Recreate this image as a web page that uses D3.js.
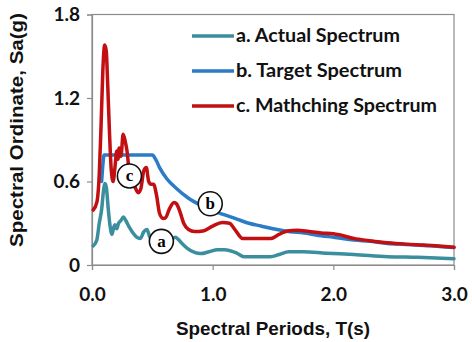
<!DOCTYPE html>
<html>
<head>
<meta charset="utf-8">
<script src="https://cdn.jsdelivr.net/npm/d3@7"></script>
<style>
  body { margin: 0; background: #fff; }
  svg { display: block; }
</style>
</head>
<body>
<svg id="chart" width="474" height="342"></svg>
<script>
// Values
const xTicks = [0, 1, 2, 3];
const yTicks = [0, 0.6, 1.2, 1.8];

// a. Actual Spectrum
const actualT = [0.01, 0.04, 0.06, 0.08, 0.095, 0.108, 0.12, 0.135, 0.15, 0.165, 0.18, 0.19, 0.205, 0.22, 0.24, 0.26, 0.28, 0.31, 0.34, 0.37, 0.4, 0.43, 0.455, 0.48, 0.52, 0.6, 0.65, 0.69, 0.74, 0.79, 0.85, 0.9, 0.97, 1.04, 1.1, 1.2, 1.26, 1.48, 1.55, 1.63, 1.75, 1.94, 2.17, 2.45, 2.7, 3.0];
const actualSa = [0.137, 0.18, 0.30, 0.40, 0.53, 0.585, 0.55, 0.40, 0.28, 0.22, 0.27, 0.29, 0.26, 0.30, 0.32, 0.345, 0.32, 0.27, 0.23, 0.20, 0.19, 0.24, 0.255, 0.20, 0.175, 0.17, 0.18, 0.20, 0.16, 0.12, 0.09, 0.082, 0.095, 0.11, 0.11, 0.085, 0.06, 0.06, 0.075, 0.095, 0.095, 0.085, 0.076, 0.06, 0.055, 0.045];

// b. Target Spectrum
const targetT = [0.08, 0.09, 0.1, 0.5, 0.53, 0.56, 0.62, 0.7, 0.8, 0.9, 1.0, 1.1, 1.2, 1.3, 1.4, 1.5, 1.6, 1.8, 1.9, 2.0, 2.17, 2.3, 2.45, 2.6, 2.75, 2.9, 3.0];
const targetSa = [0.6, 0.72, 0.79, 0.79, 0.755, 0.70, 0.62, 0.55, 0.48, 0.43, 0.39, 0.36, 0.33, 0.30, 0.28, 0.26, 0.245, 0.225, 0.21, 0.20, 0.18, 0.17, 0.155, 0.148, 0.14, 0.132, 0.125];

// c. Mathching Spectrum
const matchT = [0.01, 0.04, 0.06, 0.075, 0.09, 0.105, 0.118, 0.13, 0.145, 0.16, 0.175, 0.19, 0.205, 0.215, 0.225, 0.24, 0.258, 0.275, 0.29, 0.305, 0.33, 0.355, 0.385, 0.405, 0.43, 0.45, 0.47, 0.49, 0.51, 0.535, 0.56, 0.59, 0.61, 0.64, 0.68, 0.70, 0.73, 0.76, 0.8, 0.85, 0.92, 1.0, 1.08, 1.14, 1.18, 1.25, 1.35, 1.48, 1.55, 1.62, 1.7, 1.8, 1.9, 2.0, 2.06, 2.17, 2.3, 2.45, 2.6, 2.75, 2.9, 3.0];
const matchSa = [0.395, 0.45, 0.65, 1.0, 1.4, 1.58, 1.54, 1.3, 0.95, 0.68, 0.60, 0.70, 0.82, 0.76, 0.84, 0.78, 0.94, 0.89, 0.82, 0.70, 0.60, 0.56, 0.52, 0.55, 0.68, 0.70, 0.60, 0.58, 0.58, 0.50, 0.37, 0.335, 0.34, 0.40, 0.45, 0.44, 0.38, 0.30, 0.255, 0.24, 0.245, 0.28, 0.305, 0.30, 0.26, 0.19, 0.19, 0.19, 0.22, 0.245, 0.25, 0.24, 0.23, 0.225, 0.215, 0.19, 0.175, 0.16, 0.15, 0.143, 0.135, 0.128];

const seriesNames = ["a. Actual Spectrum", "b. Target Spectrum", "c. Mathching Spectrum"];
const seriesColors = ["#3b8e9e", "#2b7bc6", "#c20f12"];
const labels = ["c", "b", "a"];
const labelT = [0.31, 0.98, 0.575];
const labelSa = [0.64, 0.44, 0.17];

/**************************************************************************************************/
const svg = d3.select("#chart");
const x = d3.scaleLinear().domain([0, 3]).range([92, 454]);
const y = d3.scaleLinear().domain([0, 1.8]).range([265, 14.5]);

// plot box
svg.append("rect")
    .attr("x", x(0)).attr("y", y(1.8))
    .attr("width", x(3) - x(0)).attr("height", y(0) - y(1.8))
    .attr("fill", "none").attr("stroke", "#8c8c8c").attr("stroke-width", 1.2);

const xAxis = svg.append("g")
    .attr("transform", `translate(0,${y(0)})`)
    .call(d3.axisBottom(x).tickValues(xTicks).tickFormat(d3.format(".1f"))
        .tickSize(5).tickPadding(18));
const yAxis = svg.append("g")
    .attr("transform", `translate(${x(0)},0)`)
    .call(d3.axisLeft(y).tickValues(yTicks).tickFormat(d => d === 0 ? "0" : d.toFixed(1))
        .tickSize(5).tickPadding(7));

[xAxis, yAxis].forEach(g => {
    g.select(".domain").attr("stroke", "#8c8c8c").attr("stroke-width", 1.2);
    g.selectAll(".tick line").attr("stroke", "#8c8c8c").attr("stroke-width", 1.2);
    g.selectAll(".tick text")
        .attr("fill", "#111")
        .style("font-family", "Lato, 'Open Sans', sans-serif")
        .style("font-weight", "bold")
        .style("font-size", "19px");
});

// lines
const line = d3.line().x(d => x(d[0])).y(d => y(d[1])).curve(d3.curveMonotoneX);
const data = [d3.zip(actualT, actualSa), d3.zip(targetT, targetSa), d3.zip(matchT, matchSa)];
// draw order: target, actual, matching on top
[1, 0, 2].forEach(i => {
    svg.append("path")
        .datum(data[i])
        .attr("d", line)
        .attr("fill", "none")
        .attr("stroke", seriesColors[i])
        .attr("stroke-width", 3.5)
        .attr("stroke-linejoin", "round")
        .attr("stroke-linecap", "round");
});

// circled letters
const marks = svg.append("g");
labels.forEach((l, i) => {
    marks.append("circle")
        .attr("cx", x(labelT[i])).attr("cy", y(labelSa[i])).attr("r", 12)
        .attr("fill", "#fff").attr("stroke", "#111").attr("stroke-width", 1.6);
    marks.append("text")
        .attr("x", x(labelT[i])).attr("y", y(labelSa[i]) + 5.5)
        .attr("text-anchor", "middle")
        .style("font-family", "'Liberation Serif', serif")
        .style("font-weight", "bold")
        .style("font-size", "17px")
        .text(l);
});

// legend
const legendY = [36, 71, 106];
const legendW = [164, 166, 201];
const legend = svg.append("g");
seriesNames.forEach((name, i) => {
    legend.append("line")
        .attr("x1", 192).attr("x2", 234)
        .attr("y1", legendY[i]).attr("y2", legendY[i])
        .attr("stroke", seriesColors[i]).attr("stroke-width", 3.5);
    legend.append("text")
        .attr("x", 236).attr("y", legendY[i] + 6)
        .attr("textLength", legendW[i]).attr("lengthAdjust", "spacingAndGlyphs")
        .style("font-family", "Lato, 'Open Sans', sans-serif")
        .style("font-weight", "bold")
        .style("font-size", "18px")
        .attr("fill", "#111")
        .text(name);
});

// axis titles
svg.append("text")
    .attr("x", 273).attr("y", 335)
    .attr("text-anchor", "middle")
    .attr("textLength", 194).attr("lengthAdjust", "spacingAndGlyphs")
    .style("font-family", "'Liberation Sans', Arial, sans-serif")
    .style("font-weight", "bold")
    .style("font-size", "19px")
    .attr("fill", "#111")
    .text("Spectral Periods, T(s)");

svg.append("text")
    .attr("transform", "translate(23,130) rotate(-90)")
    .attr("text-anchor", "middle")
    .attr("textLength", 234).attr("lengthAdjust", "spacingAndGlyphs")
    .style("font-family", "'Liberation Sans', Arial, sans-serif")
    .style("font-weight", "bold")
    .style("font-size", "19px")
    .attr("fill", "#111")
    .text("Spectral Ordinate, Sa(g)");
</script>
</body>
</html>
